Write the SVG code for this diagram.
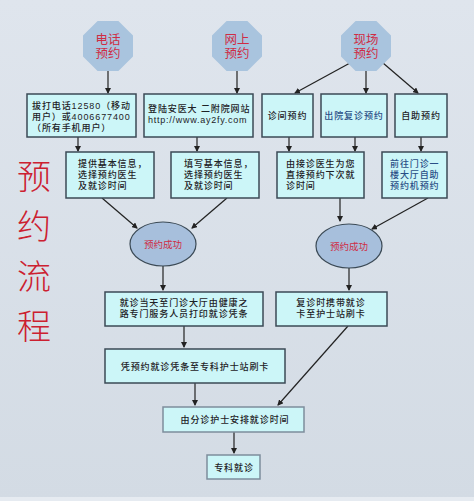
<svg xmlns="http://www.w3.org/2000/svg" width="474" height="501" viewBox="0 0 474 501">
<defs>
<linearGradient id="bg" x1="0" y1="0" x2="0" y2="1">
<stop offset="0" stop-color="#dfe5ed"/>
<stop offset="1" stop-color="#d3dbe4"/>
</linearGradient>
<marker id="ah" markerWidth="6" markerHeight="6" refX="5" refY="3" orient="auto" markerUnits="userSpaceOnUse">
<path d="M0,0 L6,3 L0,6 z" fill="#222"/>
</marker>
<style>
.box{fill:#ccf6f8;stroke:#3b4a56;stroke-width:1.5}
.box2{fill:#ccf6f8;stroke:#7d8d9c;stroke-width:1.5}
.oct{fill:#a9c4de}
.ell{fill:#a7bfdc;stroke:#3b4a56;stroke-width:1.2}
.t{font-family:"Liberation Sans","Noto Sans CJK SC",sans-serif;font-size:9px;font-weight:500;letter-spacing:0.9px;fill:#1e2226}
.tb{font-family:"Liberation Sans","Noto Sans CJK SC",sans-serif;font-size:9px;font-weight:500;letter-spacing:0.9px;fill:#2a4f86}
.tr{font-family:"Liberation Sans","Noto Sans CJK SC",sans-serif;font-size:12.5px;fill:#cf2c44;text-anchor:middle}
.te{font-family:"Liberation Sans","Noto Sans CJK SC",sans-serif;font-size:9.5px;fill:#cf2c44;text-anchor:middle}
.c{text-anchor:middle}
.title{font-family:"Noto Sans CJK SC",serif;font-size:34px;font-weight:300;fill:#cc2030;text-anchor:middle}
.ln{stroke:#222;stroke-width:1.2;fill:none;marker-end:url(#ah)}
</style>
</defs>
<rect x="0" y="0" width="474" height="501" fill="url(#bg)"/>
<rect x="0" y="497" width="474" height="4" fill="#e6ebf1"/>

<g id="title">
<text class="title" x="34" y="189">预<tspan x="34" dy="50">约</tspan><tspan x="34" dy="50">流</tspan><tspan x="34" dy="50">程</tspan></text>
</g>

<g id="connectors">
<line class="ln" x1="108" y1="71" x2="108" y2="93"/>
<line class="ln" x1="237" y1="71" x2="237" y2="93"/>
<line class="ln" x1="350" y1="63" x2="295" y2="93"/>
<line class="ln" x1="366" y1="71" x2="366" y2="93"/>
<line class="ln" x1="383" y1="63" x2="418" y2="93"/>
<line class="ln" x1="78" y1="137" x2="78" y2="151"/>
<line class="ln" x1="197" y1="137" x2="197" y2="151"/>
<line class="ln" x1="289" y1="137" x2="289" y2="151"/>
<line class="ln" x1="355" y1="137" x2="355" y2="151"/>
<line class="ln" x1="421" y1="137" x2="421" y2="151"/>
<line class="ln" x1="102" y1="198" x2="137" y2="228"/>
<line class="ln" x1="227" y1="198" x2="192" y2="228"/>
<line class="ln" x1="340" y1="198" x2="340" y2="221"/>
<line class="ln" x1="428" y1="198" x2="372" y2="229"/>
<line class="ln" x1="163" y1="266" x2="163" y2="290"/>
<line class="ln" x1="349" y1="268" x2="349" y2="290"/>
<line class="ln" x1="184" y1="326" x2="184" y2="347"/>
<line class="ln" x1="195" y1="383" x2="195" y2="405"/>
<line class="ln" x1="348" y1="326" x2="278" y2="405"/>
<line class="ln" x1="234" y1="432" x2="234" y2="453"/>
</g>

<g id="n-phone">
<polygon class="oct" points="97.6,21 118.4,21 133,35.6 133,56.4 118.4,71 97.6,71 83,56.4 83,35.6"/>
<text class="tr" x="108" y="44">电话<tspan x="108" dy="14.2">预约</tspan></text>
</g>
<g id="n-web">
<polygon class="oct" points="226.6,21 247.4,21 262,35.6 262,56.4 247.4,71 226.6,71 212,56.4 212,35.6"/>
<text class="tr" x="237" y="44">网上<tspan x="237" dy="14.2">预约</tspan></text>
</g>
<g id="n-site">
<polygon class="oct" points="355.6,21 376.4,21 391,35.6 391,56.4 376.4,71 355.6,71 341,56.4 341,35.6"/>
<text class="tr" x="366" y="44">现场<tspan x="366" dy="14.2">预约</tspan></text>
</g>

<g id="n-call">
<rect class="box" x="27" y="94" width="109" height="43"/>
<text class="t" x="32" y="109">拔打电话12580（移动<tspan x="32" dy="11">用户）或4006677400</tspan><tspan x="32" dy="11">（所有手机用户）</tspan></text>
</g>
<g id="n-login">
<rect class="box" x="144" y="94" width="109" height="43"/>
<text class="t" x="148" y="112">登陆安医大 二附院网站<tspan x="148" dy="11" style="letter-spacing:0.75px">http://www.ay2fy.com</tspan></text>
</g>
<g id="n-clinic">
<rect class="box" x="262" y="94" width="51" height="43"/>
<text class="t c" x="287.5" y="119">诊间预约</text>
</g>
<g id="n-discharge">
<rect class="box" x="321" y="94" width="66" height="43"/>
<text class="tb c" x="354" y="119">出院复诊预约</text>
</g>
<g id="n-self">
<rect class="box" x="395" y="94" width="52" height="43"/>
<text class="t c" x="421" y="119">自助预约</text>
</g>

<g id="n-info1">
<rect class="box" x="66" y="152" width="88" height="46"/>
<text class="t" x="78" y="167">提供基本信息，<tspan x="78" dy="11">选择预约医生</tspan><tspan x="78" dy="11">及就诊时间</tspan></text>
</g>
<g id="n-info2">
<rect class="box" x="171" y="152" width="88" height="46"/>
<text class="t" x="184" y="167">填写基本信息，<tspan x="184" dy="11">选择预约医生</tspan><tspan x="184" dy="11">及就诊时间</tspan></text>
</g>
<g id="n-doctor">
<rect class="box" x="277" y="152" width="87" height="46"/>
<text class="t" x="286" y="167">由接诊医生为您<tspan x="286" dy="11">直接预约下次就</tspan><tspan x="286" dy="11">诊时间</tspan></text>
</g>
<g id="n-machine">
<rect class="box" x="382" y="152" width="65" height="46"/>
<text class="tb" x="390" y="167">前往门诊一<tspan x="390" dy="11">楼大厅自助</tspan><tspan x="390" dy="11">预约机预约</tspan></text>
</g>

<g id="n-success1">
<ellipse class="ell" cx="163" cy="244" rx="33" ry="22"/>
<text class="te" x="163" y="248">预约成功</text>
</g>
<g id="n-success2">
<ellipse class="ell" cx="349" cy="246" rx="33" ry="22"/>
<text class="te" x="349" y="250">预约成功</text>
</g>

<g id="n-print">
<rect class="box" x="105" y="292" width="158" height="34"/>
<text class="t c" x="184" y="306">就诊当天至门诊大厅由健康之<tspan x="184" dy="11">路专门服务人员打印就诊凭条</tspan></text>
</g>
<g id="n-card">
<rect class="box" x="276" y="292" width="111" height="34"/>
<text class="t c" x="331" y="306">复诊时携带就诊<tspan x="331" dy="11">卡至护士站刷卡</tspan></text>
</g>
<g id="n-swipe">
<rect class="box" x="105" y="349" width="180" height="34"/>
<text class="t c" x="195" y="370">凭预约就诊凭条至专科护士站刷卡</text>
</g>
<g id="n-arrange">
<rect class="box2" x="163" y="407" width="141" height="25"/>
<text class="t c" x="235" y="423">由分诊护士安排就诊时间</text>
</g>
<g id="n-visit">
<rect class="box2" x="207" y="455" width="53" height="24"/>
<text class="t c" x="234" y="471">专科就诊</text>
</g>
</svg>
